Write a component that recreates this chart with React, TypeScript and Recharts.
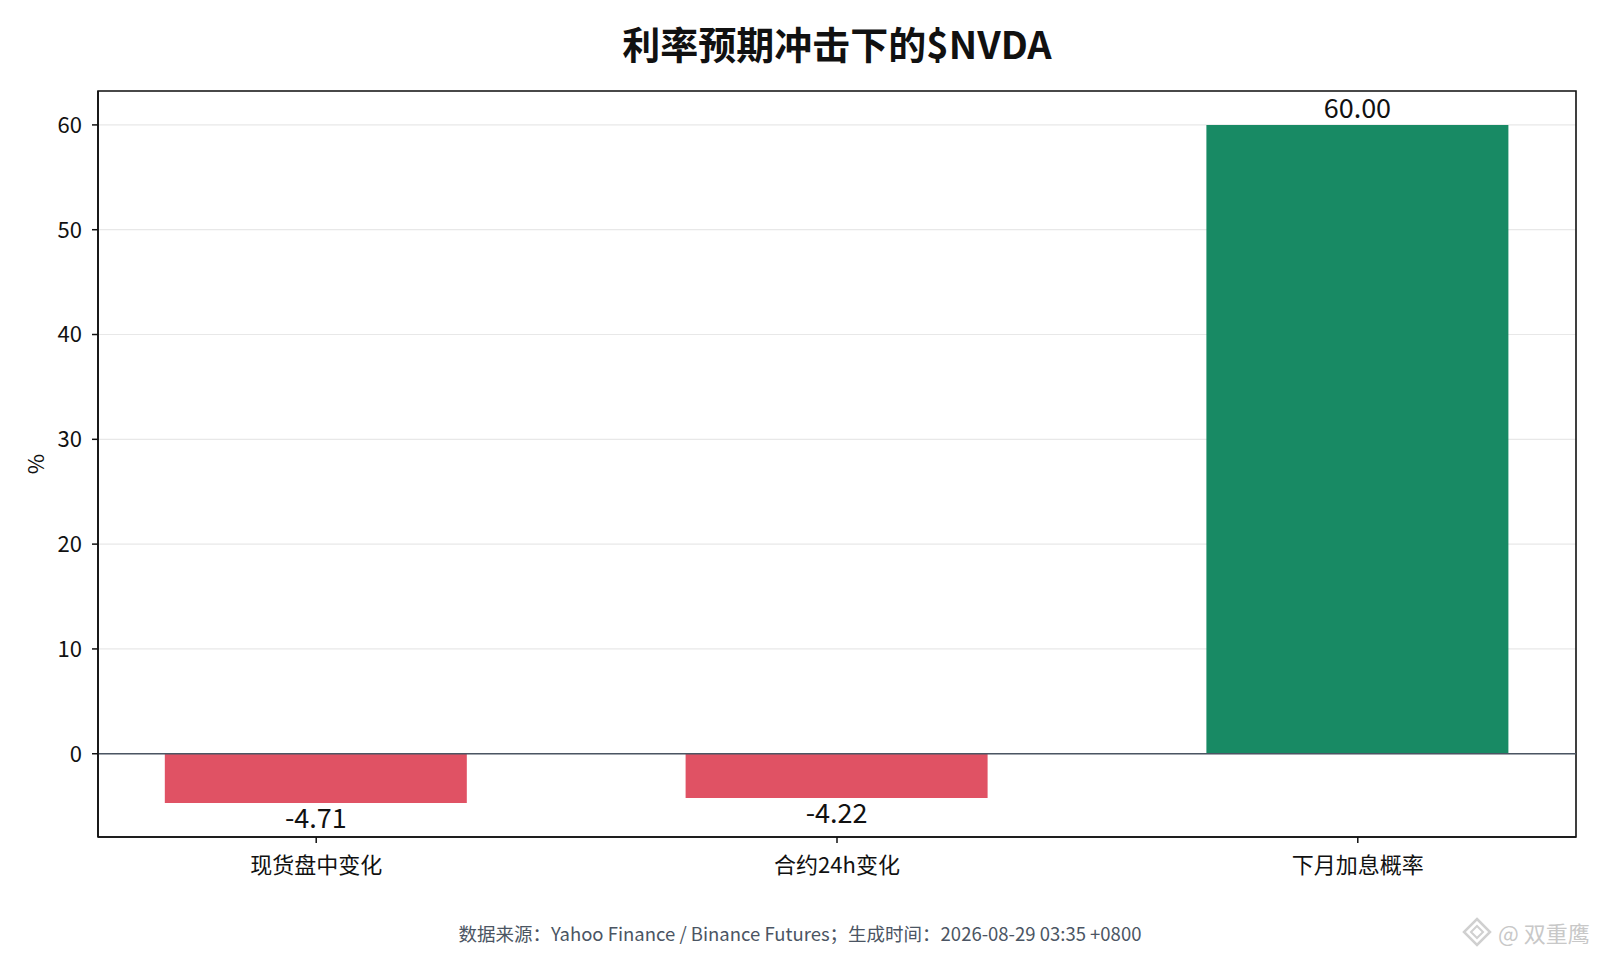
import React from "react";
import {
  BarChart,
  Bar,
  XAxis,
  YAxis,
  CartesianGrid,
  ReferenceLine,
  ReferenceArea,
  Cell,
  LabelList,
} from "recharts";

const categories = ["现货盘中变化", "合约24h变化", "下月加息概率"];
const values = [-4.71, -4.22, 60.0];
const barColors = ["#E05264", "#E05264", "#188A64"];
const yTicks = [0, 10, 20, 30, 40, 50, 60];
const xTicks = [0, 1, 2];

const titleText = "利率预期冲击下的$NVDA";
const footerText =
  "数据来源：Yahoo Finance / Binance Futures；生成时间：2026-08-29 03:35 +0800";
const watermarkText = "@ 双重鹰";

const data = categories.map((name, i) => ({ idx: i, name, value: values[i] }));

// matplotlib-like auto margins (5%)
const X_MIN = -0.419;
const X_MAX = 2.419;
const vMin = Math.min(0, ...values);
const vMax = Math.max(0, ...values);
const span = vMax - vMin;
const Y_MIN = vMin - span * 0.05;
const Y_MAX = vMax + span * 0.05;

const FONT = '"Noto Sans CJK SC", "Noto Sans", sans-serif';

const ValueLabel = (props: any) => {
  const { x, y, width, height, value } = props;
  const top = Math.min(y, y + height);
  const bottom = Math.max(y, y + height);
  const cx = x + width / 2;
  const txt = Number(value).toFixed(2);
  if (value >= 0) {
    return (
      <text x={cx} y={top - 7} textAnchor="middle" fontSize={27} fill="#111" fontFamily={FONT}>
        {txt}
      </text>
    );
  }
  return (
    <text
      x={cx}
      y={bottom}
      textAnchor="middle"
      dominantBaseline="hanging"
      fontSize={27}
      fill="#111"
      fontFamily={FONT}
    >
      {txt}
    </text>
  );
};

export default function App() {
  return (
    <div
      style={{
        position: "absolute",
        left: 0,
        top: 0,
        width: 1600,
        height: 960,
        background: "#fff",
        fontFamily: FONT,
      }}
    >
      <div
        style={{
          position: "absolute",
          left: 98,
          width: 1478,
          top: 17,
          textAlign: "center",
          fontSize: 38,
          fontWeight: 700,
          color: "#111",
          lineHeight: "52px",
        }}
      >
        {titleText}
      </div>
      <BarChart
        width={1600}
        height={960}
        data={data}
        margin={{ top: 91, right: 24, bottom: 83, left: 38 }}
        style={{ position: "absolute", left: 0, top: 0 }}
      >
        <CartesianGrid horizontal={true} vertical={false} stroke="#e8e8e8" strokeWidth={1.2} />
        <XAxis
          dataKey="idx"
          type="number"
          domain={[X_MIN, X_MAX]}
          ticks={xTicks}
          interval={0}
          allowDataOverflow={true}
          tickFormatter={(i: number) => categories[i] ?? ""}
          axisLine={{ stroke: "#111", strokeWidth: 1.6 }}
          tickLine={{ stroke: "#111", strokeWidth: 1.5 }}
          tickSize={6}
          tickMargin={14}
          height={40}
          tick={{ fill: "#111", fontSize: 22, fontFamily: FONT }}
        />
        <YAxis
          type="number"
          domain={[Y_MIN, Y_MAX]}
          ticks={yTicks}
          allowDataOverflow={true}
          axisLine={{ stroke: "#111", strokeWidth: 1.6 }}
          tickLine={{ stroke: "#111", strokeWidth: 1.5 }}
          tickSize={6}
          tickMargin={10}
          width={60}
          tick={{ fill: "#111", fontSize: 22, fontFamily: FONT }}
        />
        <ReferenceArea
          x1={X_MIN}
          x2={X_MAX}
          y1={Y_MIN}
          y2={Y_MAX}
          fill="none"
          fillOpacity={0}
          stroke="#111"
          strokeWidth={1.6}
          ifOverflow="visible"
        />
        <Bar dataKey="value" barSize={302} isAnimationActive={false}>
          {data.map((d, i) => (
            <Cell key={d.name} fill={barColors[i]} />
          ))}
          <LabelList dataKey="value" content={ValueLabel} />
        </Bar>
        <ReferenceLine y={0} stroke="#4b5563" strokeWidth={1.6} />
      </BarChart>
      <div
        style={{
          position: "absolute",
          left: 34,
          top: 464,
          transform: "translate(-50%, -50%) rotate(-90deg)",
          fontSize: 22,
          color: "#111",
          lineHeight: "26px",
        }}
      >
        %
      </div>
      <div
        style={{
          position: "absolute",
          left: 0,
          width: 1600,
          top: 920,
          textAlign: "center",
          fontSize: 18.5,
          color: "#4b5563",
          lineHeight: "26px",
        }}
      >
        {footerText}
      </div>
      <div
        style={{
          position: "absolute",
          left: 1462,
          top: 917,
          display: "flex",
          alignItems: "center",
          gap: 6,
          color: "#c8c8c8",
          fontSize: 22,
          lineHeight: "30px",
        }}
      >
        <svg width={30} height={30} viewBox="0 0 30 30">
          <polygon points="15,2 28,15 15,28 2,15" fill="none" stroke="#d0d0d0" strokeWidth={2.5} />
          <polygon points="15,9 21,15 15,21 9,15" fill="none" stroke="#d0d0d0" strokeWidth={2} />
        </svg>
        <span>{watermarkText}</span>
      </div>
    </div>
  );
}
